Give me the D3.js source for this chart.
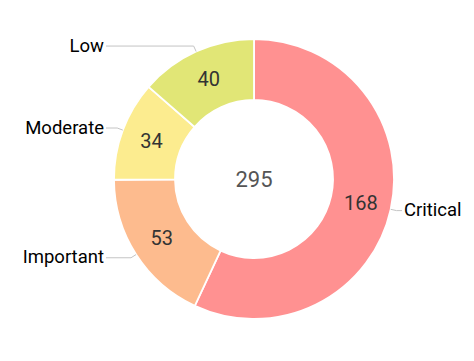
<!DOCTYPE html>
<html>
<head>
<meta charset="utf-8">
<script src="https://cdn.jsdelivr.net/npm/d3@7/dist/d3.min.js"></script>
<style>
  html, body { margin: 0; padding: 0; background: #fff; }
  svg { display: block; font-family: Roboto, "Noto Sans", sans-serif; }
</style>
</head>
<body>
<svg id="chart" width="474" height="361"></svg>
<script>
const categories = ["Critical", "Important", "Moderate", "Low"];
const values = [168, 53, 34, 40];
const colors = ["#FF9191", "#FDBB8E", "#FCEC8F", "#E1E676"];

const W = 474, H = 361;
const cx = 254, cy = 179;
const rOuter = 140, rInner = 79;

const svg = d3.select("#chart");
const g = svg.append("g").attr("transform", `translate(${cx},${cy})`);

const data = categories.map((c, i) => ({ name: c, value: values[i], color: colors[i] }));
const pie = d3.pie().value(d => d.value).sort(null);
const arcs = pie(data);

const arc = d3.arc().innerRadius(rInner).outerRadius(rOuter);
const labelArc = d3.arc().innerRadius(109.5).outerRadius(109.5);
const edgeArc = d3.arc().innerRadius(rOuter).outerRadius(rOuter);
const kneeArc = d3.arc().innerRadius(146).outerRadius(146);

g.selectAll("path.slice").data(arcs).join("path")
  .attr("class", "slice")
  .attr("d", arc)
  .attr("fill", d => d.data.color)
  .attr("stroke", "#fff")
  .attr("stroke-width", 1.8);

g.selectAll("text.val").data(arcs).join("text")
  .attr("class", "val")
  .attr("transform", d => `translate(${labelArc.centroid(d)})`)
  .attr("text-anchor", "middle")
  .attr("dy", "0.36em")
  .attr("font-size", 20)
  .attr("fill", "#333")
  .text(d => d.data.value);

const mid = d => (d.startAngle + d.endAngle) / 2;
const side = d => mid(d) < Math.PI ? 1 : -1;

g.selectAll("polyline.lead").data(arcs).join("polyline")
  .attr("class", "lead")
  .attr("fill", "none")
  .attr("stroke", "#c4c4c4")
  .attr("stroke-width", 1)
  .attr("points", d => {
    const a = edgeArc.centroid(d);
    const k = kneeArc.centroid(d);
    return [a, k, [side(d) * 148, k[1]]].map(p => p.join(",")).join(" ");
  });

g.selectAll("text.name").data(arcs).join("text")
  .attr("class", "name")
  .attr("x", d => side(d) * 150)
  .attr("y", d => kneeArc.centroid(d)[1] - 1)
  .attr("dy", "0.36em")
  .attr("text-anchor", d => side(d) > 0 ? "start" : "end")
  .attr("font-size", 18.5)
  .attr("fill", "#000")
  .text(d => d.data.name);

const total = d3.sum(values);
g.append("text")
  .attr("text-anchor", "middle")
  .attr("dy", "0.36em")
  .attr("font-size", 22)
  .attr("fill", "#555")
  .text(total);
</script>
</body>
</html>
